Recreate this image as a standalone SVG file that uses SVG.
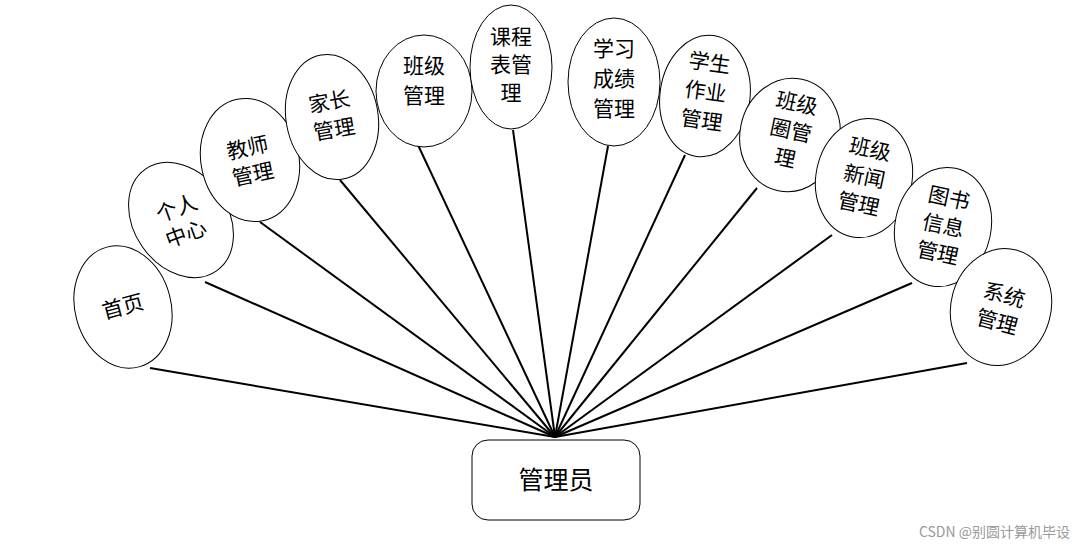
<svg xmlns="http://www.w3.org/2000/svg" width="1088" height="551" viewBox="0 0 1088 551">
<style>
.n ellipse{fill:#fff;stroke:#000;stroke-width:1}
.n text{font-family:"Noto Sans CJK SC",sans-serif;font-size:21px;text-anchor:middle;fill:#000}
#links line{stroke:#000;stroke-width:2}
</style>
<rect width="1088" height="551" fill="#fff"/>
<g id="links">
<line x1="150" y1="368" x2="555" y2="437"/>
<line x1="205" y1="282" x2="555" y2="437"/>
<line x1="260" y1="222" x2="555" y2="437"/>
<line x1="340" y1="180" x2="555" y2="437"/>
<line x1="418" y1="145" x2="555" y2="437"/>
<line x1="513" y1="130" x2="555" y2="437"/>
<line x1="608" y1="146" x2="555" y2="437"/>
<line x1="685" y1="155" x2="555" y2="437"/>
<line x1="757" y1="188" x2="555" y2="437"/>
<line x1="832" y1="235" x2="555" y2="437"/>
<line x1="912" y1="283" x2="555" y2="437"/>
<line x1="967" y1="363" x2="555" y2="437"/>
</g>
<g id="n1" class="n" transform="translate(123,307) rotate(-15)"><ellipse rx="48" ry="62"/><text y="7">首页</text></g>
<g id="n2" class="n" transform="translate(181,220) rotate(-35)"><ellipse rx="47" ry="62"/><text y="-5" transform="rotate(15)">个人</text><text y="22" transform="rotate(15)">中心</text></g>
<g id="n3" class="n" transform="translate(250,160) rotate(-12)"><ellipse rx="49" ry="62"/><text y="-5">教师</text><text y="22">管理</text></g>
<g id="n4" class="n" transform="translate(332,117) rotate(-10)"><ellipse rx="46" ry="63"/><text y="-8">家长</text><text y="20">管理</text></g>
<g id="n5" class="n" transform="translate(424,91)"><ellipse rx="48" ry="56"/><text y="-18">班级</text><text y="12">管理</text></g>
<g id="n6" class="n" transform="translate(511,67)"><ellipse rx="41" ry="62"/><text y="-23">课程</text><text y="5">表管</text><text y="33">理</text></g>
<g id="n7" class="n" transform="translate(614,82)"><ellipse rx="46" ry="64"/><text y="-26">学习</text><text y="4">成绩</text><text y="34">管理</text></g>
<g id="n8" class="n" transform="translate(705,96) rotate(8)"><ellipse rx="45" ry="61"/><text y="-26">学生</text><text y="3">作业</text><text y="32">管理</text></g>
<g id="n9" class="n" transform="translate(790,135) rotate(12)"><ellipse rx="50" ry="57"/><text y="-25">班级</text><text y="3">圈管</text><text y="31">理</text></g>
<g id="n10" class="n" transform="translate(864,178) rotate(12)"><ellipse rx="48" ry="60"/><text y="-22">班级</text><text y="6">新闻</text><text y="34">管理</text></g>
<g id="n11" class="n" transform="translate(943,227) rotate(12)"><ellipse rx="48" ry="60"/><text y="-22">图书</text><text y="6">信息</text><text y="34">管理</text></g>
<g id="n12" class="n" transform="translate(1001,307) rotate(15)"><ellipse rx="50" ry="59"/><text y="-5">系统</text><text y="23">管理</text></g>
<g id="admin"><rect x="472" y="440" width="168" height="80" rx="16" fill="#fff" stroke="#000"/><text x="556" y="489" font-family="Noto Sans CJK SC,sans-serif" font-size="25" text-anchor="middle">管理员</text></g>
<text x="1070" y="537" font-family="Noto Sans CJK SC,sans-serif" font-size="14" fill="#999" text-anchor="end">CSDN @别圆计算机毕设</text>
</svg>
